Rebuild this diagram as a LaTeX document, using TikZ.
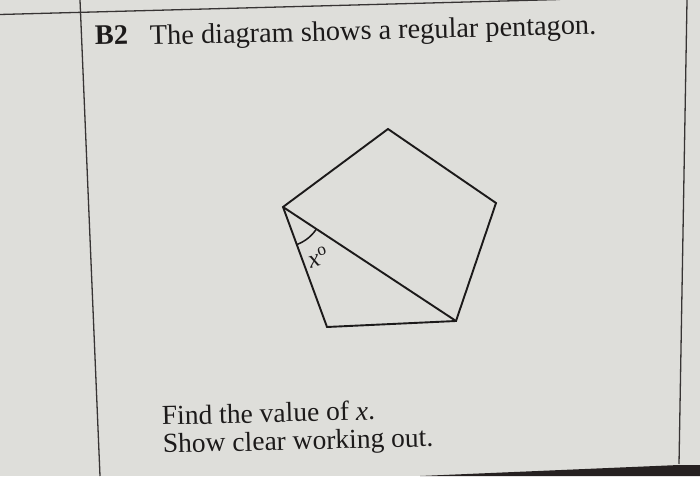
\documentclass[tikz,border=0pt]{standalone}
\usepackage{fontspec}
\setmainfont{Liberation Serif}
\definecolor{bg}{RGB}{222,222,218}
\definecolor{ink}{RGB}{28,26,26}
\definecolor{rule}{RGB}{55,52,52}
\definecolor{dark}{RGB}{38,33,33}
\begin{document}
\begin{tikzpicture}[x=1pt,y=1pt,
  frame/.style={draw=rule,line width=1.3pt},
  edge/.style={draw=ink,line width=1.9pt,line join=miter},
  txt/.style={text=ink,inner sep=0pt,rotate=1.4},
]
\fill[bg] (0,0) rectangle (700,476);
\useasboundingbox (0,0) rectangle (700,476);
% frame lines of the page
\coordinate (tl) at (0,461.5);
\coordinate (tr) at (560,476.5);
\draw[frame] (tl) -- (tr);
\coordinate (lt) at (80,476);
\coordinate (lb) at (100,0);
\draw[frame] (lt) -- (lb);
\coordinate (rt) at (687,476);
\coordinate (rb) at (679,12);
\draw[frame] (rt) -- (rb);
\fill[dark] (420,0) -- (679,11) -- (700,11) -- (700,0) -- cycle;
% title
\node[txt,anchor=base west,font=\fontsize{28.3}{30}\selectfont\bfseries] (b2) at (95,431) {B2};
\node[txt,anchor=base west,font=\fontsize{28.3}{30}\selectfont] (title) at (150,431) {The diagram shows a regular pentagon.};
% pentagon
\coordinate (A) at (388,347);
\coordinate (B) at (496,273);
\coordinate (C) at (456,155);
\coordinate (D) at (327,149);
\coordinate (E) at (283,269);
\draw[edge] (A) -- (B) -- (C) -- (D) -- (E) -- cycle;
\draw[edge] (E) -- (C);
\draw[draw=ink,line width=1.5pt] (E) ++(-69.9:40) arc[start angle=-69.9,end angle=-33.4,radius=40];
\node[text=ink,inner sep=0pt,rotate=18,font=\fontsize{25}{26}\selectfont] (xlab) at (318,219) {\textit{x}\textsuperscript{o}};
% question
\node[txt,anchor=base west,font=\fontsize{27.5}{29}\selectfont] (q1) at (162,51) {Find the value of \textit{x}.};
\node[txt,anchor=base west,font=\fontsize{27.5}{29}\selectfont] (q2) at (163,23) {Show clear working out.};
\end{tikzpicture}
\end{document}
